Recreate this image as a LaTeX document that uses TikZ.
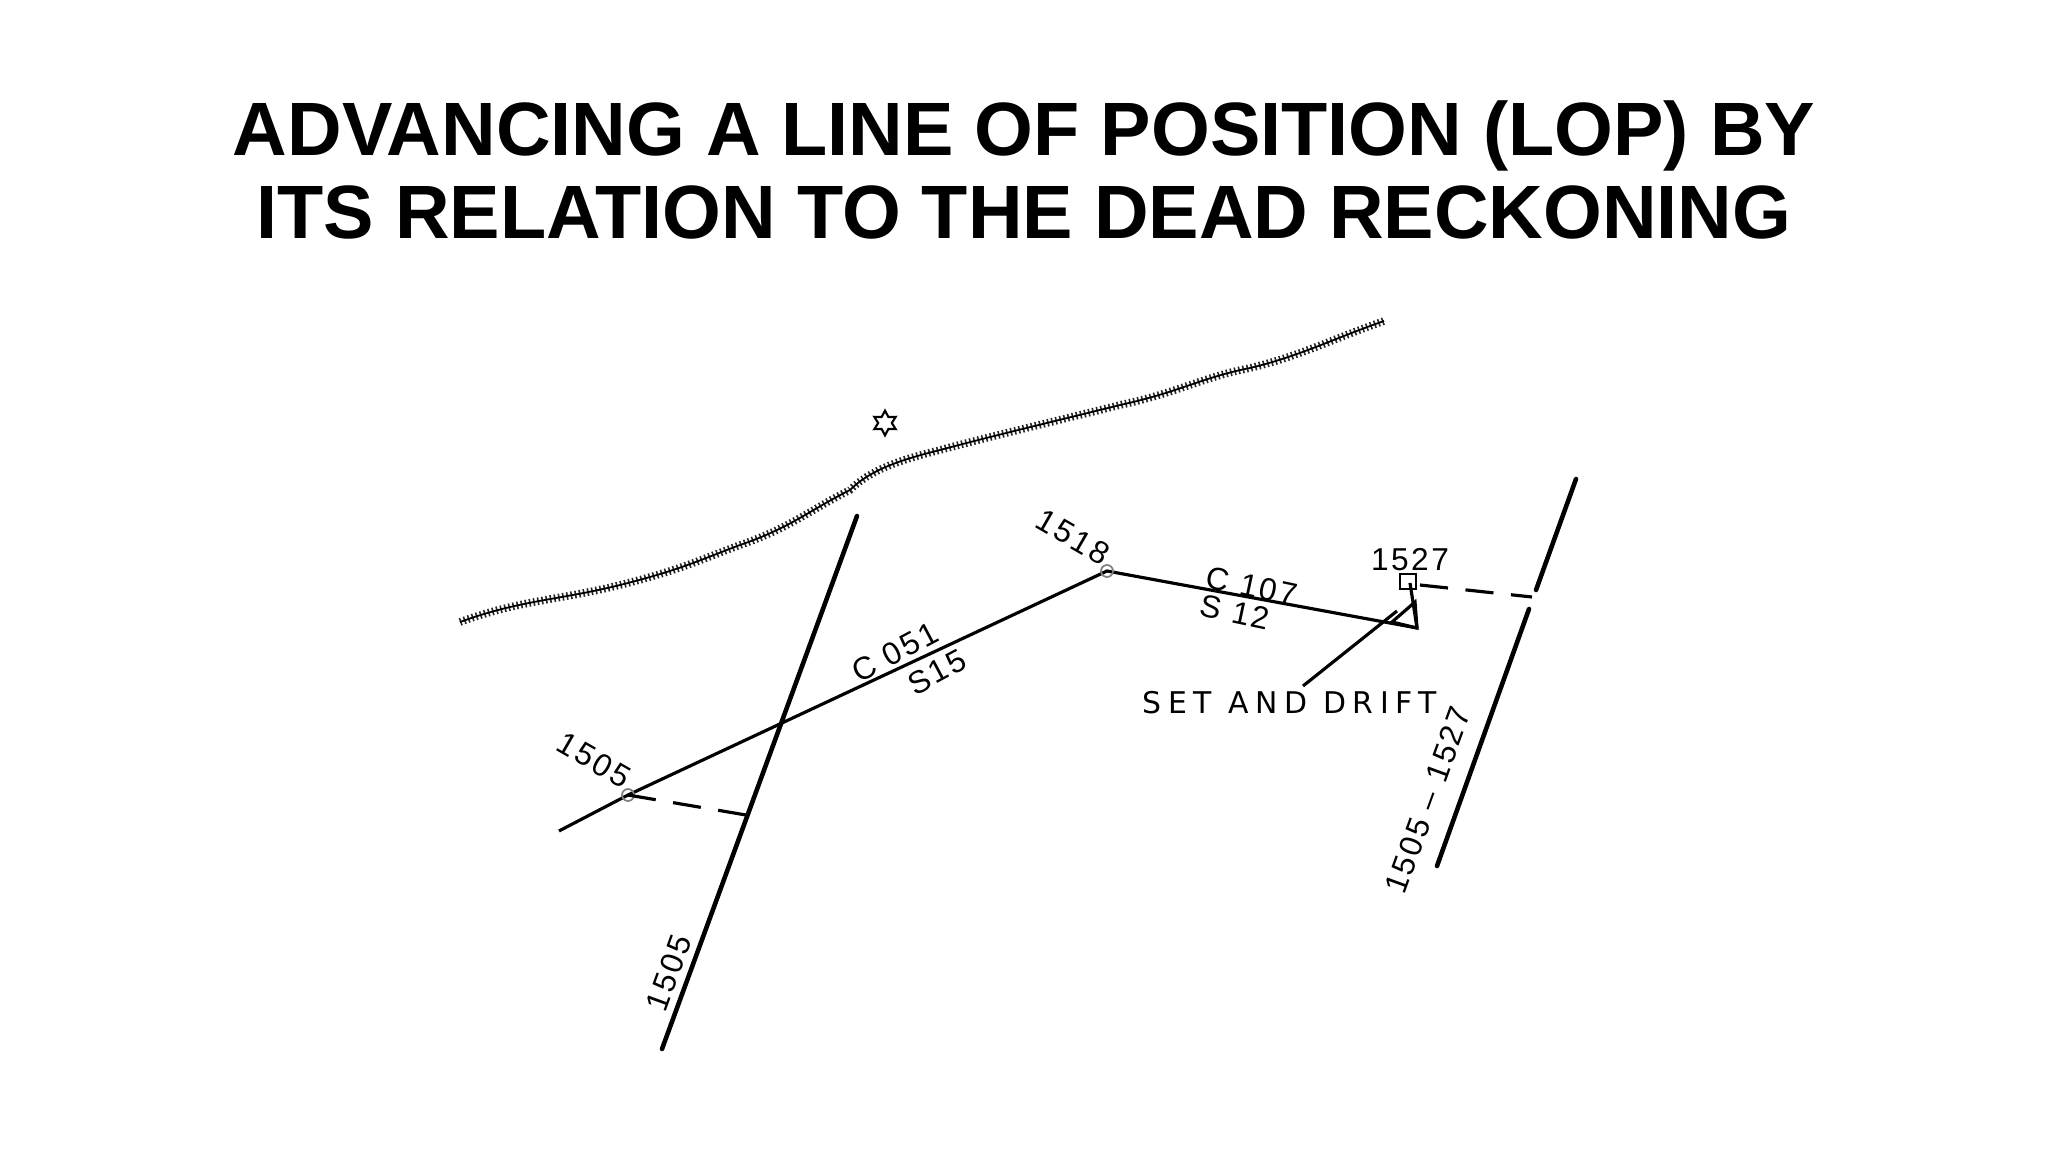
\documentclass[tikz,border=0pt]{standalone}
\usepackage{fontspec}
\setmainfont{Liberation Sans}
\newfontfamily\lblfont[LetterSpace=8]{Liberation Sans}
\newfontfamily\sdfont[LetterSpace=22]{DejaVu Sans}
\usetikzlibrary{shapes.geometric}
\begin{document}
\begin{tikzpicture}[x=0.01cm,y=-0.01cm,
  lop/.style={line width=1.3pt,line cap=round},
  track/.style={line width=0.9pt},
  dashline/.style={line width=0.9pt,dash pattern=on 8pt off 5pt},
  lbl/.style={font=\lblfont\fontsize{9}{10}\selectfont,inner sep=1pt},
  titlef/.style={font=\bfseries\fontsize{21.5}{23.4}\selectfont,align=center}]
\useasboundingbox (0,0) rectangle (2048,1152);
\node[titlef] (title) at (1024,170) {ADVANCING A LINE OF POSITION (LOP) BY\\ITS RELATION TO THE DEAD RECKONING};
% coastline
\def\coast{(460,622) .. controls (520,600) and (560,600) .. (620,585)
 .. controls (680,570) and (700,560) .. (740,545)
 .. controls (790,528) and (810,510) .. (850,490)
 .. controls (870,470) and (900,460) .. (940,450)
 .. controls (1000,434) and (1060,420) .. (1120,405)
 .. controls (1180,392) and (1200,378) .. (1250,368)
 .. controls (1300,356) and (1330,340) .. (1384,321)}
\draw[line width=2.2pt,dash pattern=on 0.45pt off 0.75pt,black!85] \coast;
\draw[line width=0.5pt] \coast;
% star
\node[draw,line width=0.6pt,star,star points=6,star point ratio=1.8,minimum size=7pt,inner sep=0pt] (star) at (885,423) {};
% points
\coordinate (a) at (559,831);
\coordinate (p1505) at (628,795);
\coordinate (p1518) at (1107,571);
\coordinate (p1527) at (1417,628);
\coordinate (fix) at (1410,583);
\coordinate (lopT) at (857,516);
\coordinate (lopB) at (662,1049);
\coordinate (lopD) at (746,815);
\coordinate (alT) at (1576,479);
\coordinate (alG1) at (1536,590);
\coordinate (alG2) at (1529,609);
\coordinate (alB) at (1437,866);
\coordinate (alD) at (1532,597);
\coordinate (sdA) at (1303,686);
\coordinate (sdB) at (1397,611);
% LOP
\draw[lop] (lopT) -- (lopB);
\draw[lop] (alT) -- (alG1);
\draw[lop] (alG2) -- (alB);
% track
\draw[track] (a) -- (p1505) -- (p1518) -- (p1527);
\draw[gray,line width=0.5pt] (p1505) circle (6);
\draw[gray,line width=0.5pt] (p1518) circle (6);
% set and drift arrow
\draw[track] (p1527) -- (fix);
\draw[track] (1392,622) -- (1415,602) -- (p1527) -- cycle;
\draw[track] (sdA) -- (sdB);
\draw[line width=0.6pt] (1400,574) rectangle (1416,589);
\draw[dashline] (p1505) -- (lopD);
\draw[dashline] (1420,585) -- (alD);
% labels
\node[lbl,rotate=-30] (l1505a) at (594,760) {1505};
\node[lbl,rotate=-30] (l1518) at (1073,537) {1518};
\node[lbl] (l1527) at (1410,560) {1527};
\node[lbl,rotate=28] (lc051) at (895,652) {C 051};
\node[lbl,rotate=28] (ls15) at (937,672) {S15};
\node[lbl,rotate=-12] (lc107) at (1252,586) {C 107};
\node[lbl,rotate=-12] (ls12) at (1235,612) {S 12};
\node[lbl,rotate=70] (l1505b) at (669,973) {1505};
\node[lbl,rotate=70] (l15051527) at (1428,800) {1505 – 1527};
\node[font=\sdfont\fontsize{8.5}{10}\selectfont,inner sep=1pt] (lsd) at (1290,703) {SET AND DRIFT};
\end{tikzpicture}
\end{document}
